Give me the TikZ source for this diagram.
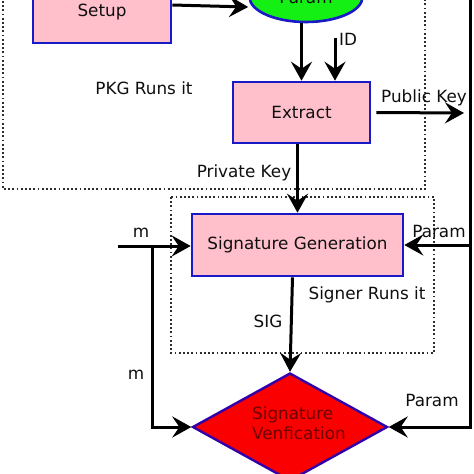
\documentclass[tikz,border=0pt]{standalone}
\usepackage{fontspec}
\setmainfont{DejaVu Sans}
\usetikzlibrary{shapes.geometric,arrows.meta}
\definecolor{boxblue}{RGB}{25,25,200}
\definecolor{boxpink}{RGB}{255,192,203}
\definecolor{ellgreen}{RGB}{20,240,20}
\definecolor{dmdred}{RGB}{250,0,0}
\definecolor{dmdblue}{RGB}{50,0,170}
\definecolor{dmdtext}{RGB}{110,0,0}
\definecolor{txt}{RGB}{15,15,15}
\definecolor{dotgray}{RGB}{45,45,45}
\begin{document}
\begin{tikzpicture}[x=1pt,y=-1pt,
  every node/.style={font=\fontsize{16.8}{20}\selectfont},
  box/.style={draw=boxblue,line width=2.6pt,fill=boxpink,inner sep=0pt,text=txt},
  lab/.style={inner sep=0pt,text=txt},
  arr/.style={line width=3pt,-{Stealth[length=19pt,width=21pt,inset=7pt]}},
  dotbox/.style={draw=dotgray,line width=1.8pt,dash pattern=on 1.8pt off 2.4pt}]
\useasboundingbox (0,0) rectangle (474,474);
\clip (0,0) rectangle (474,474);
\fill[white] (0,0) rectangle (474,474);
% dotted groups
\draw[dotbox] (3,-20) rectangle (425,189);
\draw[dotbox] (171,197) rectangle (434,353);
% nodes
\node[box,minimum width=138pt,minimum height=62pt] (setup) at (102,12) {Setup};
\node[ellipse,draw=boxblue,line width=2.6pt,fill=ellgreen,inner sep=0pt,text=txt,
      minimum width=113pt,minimum height=50pt] (param) at (306,-3) {Param};
\node[box,minimum width=137pt,minimum height=61pt] (extract) at (301.5,112.5) {Extract};
\node[box,minimum width=211pt,minimum height=62pt] (siggen) at (297.5,245) {Signature Generation};
\node[diamond,draw=dmdblue,line width=2.4pt,fill=dmdred,inner sep=0pt,
      minimum width=195pt,minimum height=108pt] (ver) at (290,427) {};
\node[lab,text=dmdtext,align=left,anchor=west] (vertext) at (252,423)
  {Signature\\Venfication};
% labels
\node[lab] (pkglab) at (144,88) {PKG Runs it};
\node[lab,anchor=west] (idlab) at (339,39) {ID};
\node[lab] (publab) at (424,98) {Public Key};
\node[lab] (privlab) at (244,173) {Private Key};
\node[lab] (mlab1) at (141,233) {m};
\node[lab] (parlab1) at (439,231) {Param};
\node[lab] (signlab) at (367,295) {Signer Runs it};
\node[lab] (siglab) at (268,321) {SIG};
\node[lab] (mlab2) at (136,375) {m};
\node[lab] (parlab2) at (432,400) {Param};
% coordinates
\coordinate (id) at (335,38);
\coordinate (pk) at (464,113);
\coordinate (min) at (118,246);
\coordinate (br) at (152,246);
\coordinate (rt) at (470,-5);
% connectors
\draw[arr] ([yshift=7pt]setup.east) -- ([yshift=-10pt]param.west);
\draw[arr] (param.south -| extract.north) -- (extract.north);
\draw[arr] (id) -- (id |- extract.north);
\draw[arr] ([xshift=5pt]extract.east) -- (pk);
\draw[arr] (extract.south -| siggen.north) -- (siggen.north);
\draw[arr] (min) -- (min -| siggen.west);
\draw[arr] (br) |- (ver.west);
\draw[arr] (rt) |- (ver.east);
\draw[arr] (rt |- siggen.east) -- (siggen.east);
\draw[arr] ([xshift=-5pt]siggen.south) -- (ver.north);
\end{tikzpicture}
\end{document}
